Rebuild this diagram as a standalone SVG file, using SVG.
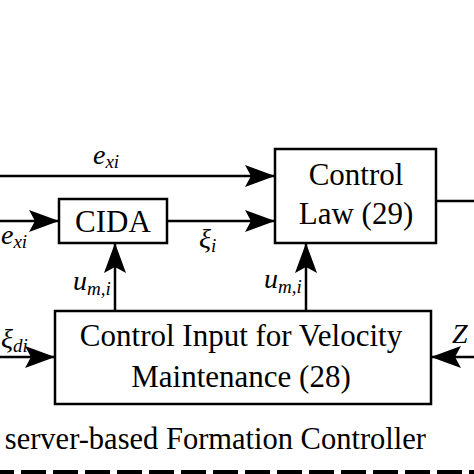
<svg xmlns="http://www.w3.org/2000/svg" width="474" height="474" viewBox="0 0 474 474">
<style>
  .box { fill: #fff; stroke: #000; stroke-width: 2.5; }
  .wire { fill: none; stroke: #000; stroke-width: 2.5; }
  .lbl { font-family: "Liberation Serif", "Times New Roman", serif; font-size: 31px; fill: #000; text-anchor: middle; }
  .math { font-family: "Liberation Serif", "Times New Roman", serif; font-style: italic; font-size: 28px; fill: #000; }
  .sub { font-size: 19px; }
</style>
<defs>
  <marker id="arr" viewBox="0 0 30 22" refX="30" refY="11" markerWidth="30" markerHeight="22" markerUnits="userSpaceOnUse" orient="auto">
    <path d="M0,0 L30,11 L0,22 L6,11 Z" fill="#000"/>
  </marker>
</defs>
<rect width="474" height="474" fill="#fff"/>

<g id="connectors">
  <line class="wire" x1="0" y1="176" x2="275" y2="176" marker-end="url(#arr)"/>
  <line class="wire" x1="0" y1="221" x2="59" y2="221" marker-end="url(#arr)"/>
  <line class="wire" x1="167" y1="221" x2="275" y2="221" marker-end="url(#arr)"/>
  <line class="wire" x1="436" y1="201" x2="474" y2="201"/>
  <line class="wire" x1="115" y1="311" x2="115" y2="243" marker-end="url(#arr)"/>
  <line class="wire" x1="306" y1="311" x2="306" y2="243" marker-end="url(#arr)"/>
  <line class="wire" x1="0" y1="357" x2="55" y2="357" marker-end="url(#arr)"/>
  <line class="wire" x1="474" y1="357" x2="431" y2="357" marker-end="url(#arr)"/>
</g>

<g id="cida">
  <rect class="box" x="59" y="199" width="108" height="44"/>
  <text class="lbl" x="113" y="232">CIDA</text>
</g>

<g id="control-law">
  <rect class="box" x="275" y="149" width="161" height="94"/>
  <text class="lbl" x="356" y="185">Control</text>
  <text class="lbl" x="356" y="224">Law (29)</text>
</g>

<g id="velocity-maintenance">
  <rect class="box" x="55" y="311" width="376" height="93"/>
  <text class="lbl" x="241" y="346">Control Input for Velocity</text>
  <text class="lbl" x="241" y="387">Maintenance (28)</text>
</g>

<g id="labels">
  <text class="math" x="93" y="164">e<tspan class="sub" dy="4">xi</tspan></text>
  <text class="math" x="1" y="244">e<tspan class="sub" dy="4">xi</tspan></text>
  <text class="math" x="199" y="248">ξ<tspan class="sub" dy="4">i</tspan></text>
  <text class="math" x="73" y="290">u<tspan class="sub" dy="5">m,i</tspan></text>
  <text class="math" x="264" y="288">u<tspan class="sub" dy="5">m,i</tspan></text>
  <text class="math" x="1" y="348">ξ<tspan class="sub" dy="4">di</tspan></text>
  <text class="math" x="452" y="343">Z</text>
</g>

<g id="title">
  <text class="lbl" x="426" y="449" style="text-anchor:end;font-size:30.5px">server-based Formation Controller</text>
  <line x1="0" y1="473" x2="474" y2="473" stroke="#000" stroke-width="6" stroke-dasharray="25 7" stroke-dashoffset="11"/>
</g>
</svg>
